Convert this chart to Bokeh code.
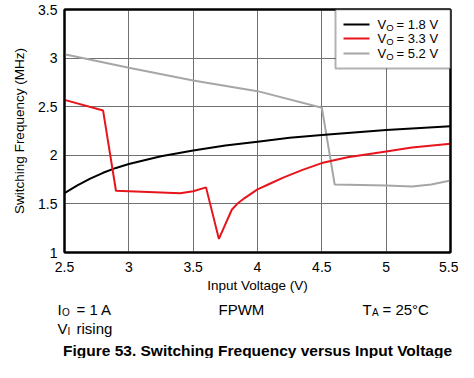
from bokeh.plotting import figure
from bokeh.layouts import column, row
from bokeh.models import Label, BoxAnnotation, Arrow, FixedTicker, NumeralTickFormatter, Range1d, LinearAxis
from bokeh.embed import file_html
from bokeh.resources import INLINE

# ---- data ----
vin_18 = [2.5, 2.6, 2.7, 2.8, 2.9, 3.0, 3.25, 3.5, 3.75, 4.0, 4.25, 4.5, 5.0, 5.5]
f_18 = [1.61, 1.69, 1.76, 1.82, 1.87, 1.91, 1.99, 2.05, 2.10, 2.14, 2.18, 2.21, 2.26, 2.30]

vin_33 = [2.5, 2.8, 2.9, 3.0, 3.2, 3.4, 3.5, 3.6, 3.7, 3.8, 3.85, 3.9, 4.0, 4.1, 4.2, 4.35, 4.5, 4.7, 5.0, 5.2, 5.5]
f_33 = [2.57, 2.46, 1.635, 1.63, 1.62, 1.61, 1.63, 1.67, 1.14, 1.44, 1.51, 1.56, 1.65, 1.71, 1.77, 1.85, 1.92, 1.98, 2.04, 2.08, 2.12]

vin_52 = [2.5, 3.0, 3.5, 4.0, 4.5, 4.6, 5.0, 5.2, 5.35, 5.5]
f_52 = [3.04, 2.90, 2.77, 2.66, 2.49, 1.70, 1.69, 1.68, 1.70, 1.74]

series_names = ["1.8 V", "3.3 V", "5.2 V"]
series_colors = ["#000000", "#e8141c", "#a6a6a6"]

x_ticks = [2.5, 3, 3.5, 4, 4.5, 5, 5.5]
y_ticks = [1, 1.5, 2, 2.5, 3, 3.5]

FONT = "Liberation Sans"
W = 458

fig = figure(width=W, height=296, output_backend="svg", toolbar_location=None,
             x_range=Range1d(2.5, 5.5), y_range=Range1d(1, 3.5),
             min_border_left=64, min_border_right=8, min_border_top=9, min_border_bottom=44)

fig.outline_line_color = "black"
fig.outline_line_width = 2
fig.background_fill_color = "white"
fig.border_fill_color = "white"

for ax in (fig.xaxis, fig.yaxis):
    ax.axis_line_color = "black"
    ax.axis_line_width = 2
    ax.major_tick_line_color = None
    ax.minor_tick_line_color = None
    ax.major_tick_out = 0
    ax.major_tick_in = 0
    ax.minor_tick_out = 0
    ax.minor_tick_in = 0
    ax.major_label_text_font = FONT
    ax.major_label_text_font_size = "14px"
    ax.major_label_text_color = "black"
    ax.axis_label_text_font = FONT
    ax.axis_label_text_font_size = "13.5px"
    ax.axis_label_text_font_style = "normal"
    ax.axis_label_text_color = "black"
    ax.formatter = NumeralTickFormatter(format="0.[0]")

fig.xaxis.ticker = FixedTicker(ticks=x_ticks)
fig.yaxis.ticker = FixedTicker(ticks=y_ticks)
fig.xaxis.axis_label = "Input Voltage (V)"
fig.yaxis.axis_label = "Switching Frequency (MHz)"
fig.xaxis.major_label_standoff = 9
fig.xaxis.axis_label_standoff = 3
fig.yaxis.major_label_standoff = 7
fig.yaxis.axis_label_standoff = 8

for loc in ("right", "above"):
    a = LinearAxis(axis_line_color="black", axis_line_width=2, major_tick_line_color=None,
                   minor_tick_line_color=None, major_label_text_font_size="0px",
                   major_tick_out=0, major_tick_in=0,
                   major_label_standoff=0, ticker=FixedTicker(ticks=[]))
    fig.add_layout(a, loc)

fig.grid.grid_line_color = "#707070"
fig.grid.grid_line_width = 1
fig.xgrid.ticker = FixedTicker(ticks=x_ticks)
fig.ygrid.ticker = FixedTicker(ticks=y_ticks)

fig.line(vin_52, f_52, line_color=series_colors[2], line_width=2)
fig.line(vin_18, f_18, line_color=series_colors[0], line_width=2)
fig.line(vin_33, f_33, line_color=series_colors[1], line_width=2)

# ---- custom legend (frame-relative screen units) ----
fig.add_layout(BoxAnnotation(left=271, right=386, top=243, bottom=184,
                             left_units="screen", right_units="screen", top_units="screen", bottom_units="screen",
                             fill_color="white", fill_alpha=1.0, line_color="black", line_width=2))
leg_y = [228, 214, 199]
for name, col, yy in zip(series_names, series_colors, leg_y):
    fig.add_layout(Arrow(x_start=279, y_start=yy, x_end=305, y_end=yy, start_units="screen", end_units="screen",
                         end=None, start=None, line_color=col, line_width=2))
    fig.add_layout(Label(x=313, y=yy, x_units="screen", y_units="screen", text="V", text_baseline="middle",
                         text_font=FONT, text_font_size="13px", text_color="black"))
    fig.add_layout(Label(x=321.7, y=yy - 3, x_units="screen", y_units="screen", text="O", text_baseline="middle",
                         text_font=FONT, text_font_size="9.5px", text_color="black"))
    fig.add_layout(Label(x=332, y=yy, x_units="screen", y_units="screen", text="= " + name, text_baseline="middle",
                         text_font=FONT, text_font_size="13px", text_color="black"))

# ---- conditions text below the plot (separate text-only panel) ----
H2 = 62
txt = figure(width=W, height=H2, output_backend="svg", toolbar_location=None,
             x_range=Range1d(0, 1), y_range=Range1d(0, 1), x_axis_type=None, y_axis_type=None,
             min_border_left=0, min_border_right=0, min_border_top=0, min_border_bottom=0)
txt.grid.visible = False
txt.outline_line_color = None
txt.background_fill_color = "white"
txt.border_fill_color = "white"

def lab(x, y_from_top, t, size="15px", style="normal", align="left"):
    txt.add_layout(Label(x=x, y=H2 - y_from_top, x_units="screen", y_units="screen", text=t,
                         text_baseline="alphabetic", text_align=align, text_font=FONT,
                         text_font_size=size, text_font_style=style, text_color="black"))

lab(57, 13, "I")
lab(61.5, 16, "O", size="10px")
lab(76, 13, "= 1 A")
lab(218, 13, "FPWM")
lab(362, 13, "T")
lab(371.5, 16, "A", size="10px")
lab(382, 13, "= 25°C")
lab(57, 32, "V")
lab(67, 35, "I", size="10px")
lab(76, 32, "rising")
lab(257, 54, "Figure 53. Switching Frequency versus Input Voltage", size="15.5px", style="bold", align="center")

p = column(fig, row(txt), spacing=0)

open("out.html", "w").write(file_html(p, INLINE))
